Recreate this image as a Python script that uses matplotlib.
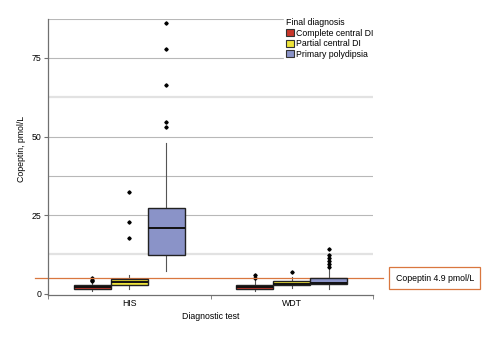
import matplotlib.pyplot as plt
from matplotlib.patches import Patch

plt.rcParams["font.family"] = ["Liberation Sans", "DejaVu Sans"]

# data (copeptin, pmol/L)
tests = ["HIS", "WDT"]
groups = ["Complete central DI", "Partial central DI", "Primary polydipsia"]
colors = ["#c8362a", "#eee43a", "#8a93c8"]

# per test, per group: (whislo, q1, med, q3, whishi)
his_stats = [(1.0, 1.5, 2.0, 2.9, 3.6), (1.6, 2.7, 3.7, 4.8, 5.9), (7.2, 12.4, 20.8, 27.2, 47.8)]
wdt_stats = [(1.0, 1.5, 2.2, 2.8, 4.4), (1.7, 2.8, 3.2, 3.9, 5.2), (1.5, 3.1, 3.5, 5.1, 7.8)]
his_fliers = [[4.1, 4.5, 4.9], [17.7, 22.9, 32.3], [53.1, 54.6, 66.4, 77.7, 86.1]]
wdt_fliers = [[5.0, 5.9], [6.8], [8.4, 9.5, 10.5, 11.5, 12.3, 14.2]]
cutoff = 4.9

fig = plt.figure(figsize=(4.99, 3.41), dpi=100)
ax = fig.add_axes([0.0962, 0.1349, 0.6513, 0.8106])

width = 0.228
offsets = [-width, 0.0, width]
for ti, (stats, fliers) in enumerate([(his_stats, his_fliers), (wdt_stats, wdt_fliers)]):
    for gi in range(3):
        lo, q1, med, q3, hi = stats[gi]
        s = dict(whislo=lo, q1=q1, med=med, q3=q3, whishi=hi, fliers=fliers[gi])
        bp = ax.bxp([s], positions=[ti + offsets[gi]], widths=width, patch_artist=True,
                    showcaps=False,
                    boxprops=dict(facecolor=colors[gi], edgecolor="#222222", linewidth=1.0),
                    medianprops=dict(color="#111111", linewidth=1.4),
                    whiskerprops=dict(color="#555555", linewidth=0.8),
                    flierprops=dict(marker="D", markersize=1.7, markerfacecolor="black",
                                    markeredgecolor="black"))
        for b in bp["boxes"]:
            b.set_zorder(3)
        for m in bp["medians"]:
            m.set_zorder(4)

# gridlines
for v in [25, 37.5, 50, 75, 87.5]:
    ax.axhline(v, color="#b8b8b8", linewidth=0.8, zorder=0)
for v in [12.5, 62.5]:
    ax.axhline(v, color="#e2e2e2", linewidth=1.6, zorder=0)

# cut-off line with label box
ax.axhline(cutoff, xmin=-0.04, xmax=1.031, color="#d9773f", linewidth=0.9, clip_on=False, zorder=2)
ax.text(1.19, cutoff, "Copeptin 4.9 pmol/L", transform=ax.get_yaxis_transform(),
        ha="center", va="center", fontsize=6.3,
        bbox=dict(boxstyle="square,pad=0.75", facecolor="white", edgecolor="#d9773f", linewidth=0.9))

ax.set_xlim(-0.5, 1.5)
ax.set_ylim(-0.4, 87.5)
ax.set_xticks([0, 1], labels=tests)
ax.set_xticks([-0.5, 0.5, 1.5], minor=True)
ax.tick_params(axis="x", which="major", length=0, labelsize=6.3, pad=3)
ax.tick_params(axis="x", which="minor", length=3, color="#707070")
ax.set_yticks([0, 25, 50, 75])
ax.tick_params(axis="y", length=3, color="#707070", labelsize=6.3, pad=2)

for side in ["top", "right"]:
    ax.spines[side].set_visible(False)
for side in ["left", "bottom"]:
    ax.spines[side].set_color("#707070")
    ax.spines[side].set_linewidth(0.9)

ax.set_xlabel("Diagnostic test", fontsize=6.3, labelpad=3)
ax.set_ylabel("Copeptin, pmol/L", fontsize=6.3)
ax.yaxis.set_label_coords(-0.068, 0.53)

handles = [Patch(facecolor=c, edgecolor="#333333", linewidth=0.8) for c in colors]
leg = fig.legend(handles, groups, title="Final diagnosis", loc="upper left",
                 bbox_to_anchor=(0.569, 0.952), frameon=True, fontsize=6.3,
                 title_fontsize=6.3, handlelength=0.9, handleheight=0.9,
                 handletextpad=0.3, labelspacing=0.18, borderpad=0.2, borderaxespad=0)
leg.get_frame().set_edgecolor("white")
leg.get_frame().set_alpha(1.0)
leg._legend_box.align = "left"

fig.savefig("out.png", dpi=100)
